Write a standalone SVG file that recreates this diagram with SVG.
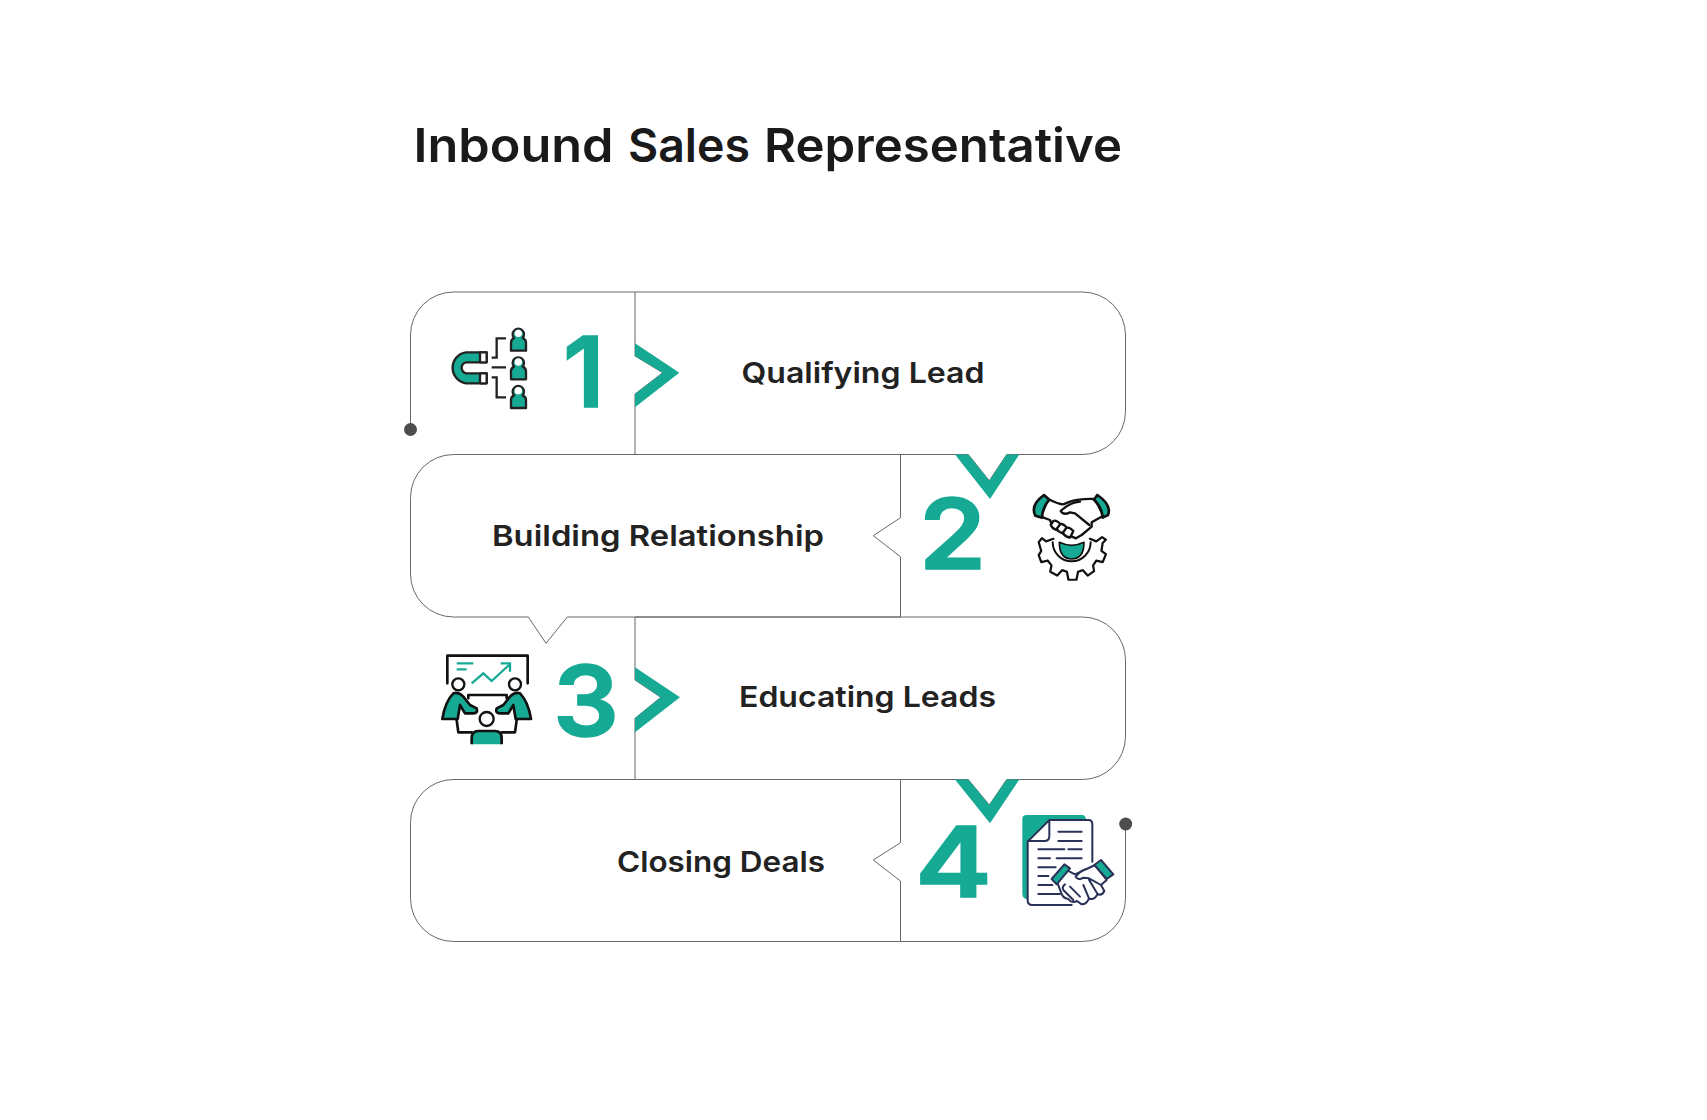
<svg xmlns="http://www.w3.org/2000/svg" width="1707" height="1120" viewBox="0 0 1707 1120">
<style>
.t{font-family:"Inter","Liberation Sans",sans-serif;font-weight:600;fill:#222}
.n{font-family:"Inter","Liberation Sans",sans-serif;font-weight:600;fill:#16aa95;stroke:#16aa95;stroke-width:1.500;font-size:98px}
.o{fill:none;stroke:#686868;stroke-width:1}
.c{fill:#16aa95}
.k{fill:none;stroke:#111;stroke-width:8;stroke-linecap:round;stroke-linejoin:round}
.kf{fill:#fff;stroke:#111;stroke-width:7;stroke-linejoin:round;stroke-linecap:round}
.kt{fill:#16aa95;stroke:#111;stroke-width:8;stroke-linejoin:round}
.m{fill:#16aa95;stroke:#222;stroke-width:7;stroke-linejoin:round}
.mw{fill:#fff;stroke:#222;stroke-width:7;stroke-linejoin:round}
.ml{fill:none;stroke:#222;stroke-width:7}
.d{fill:none;stroke:#2a3158;stroke-width:6;stroke-linecap:round;stroke-linejoin:round}
.df{fill:#fff;stroke:#2a3158;stroke-width:6;stroke-linejoin:round;stroke-linecap:round}
.dt{fill:#16aa95;stroke:#2a3158;stroke-width:6;stroke-linejoin:round}
</style>
<defs>
<g id="person"><path class="m" d="M213 92V68Q213 58 222 54A17 17 0 1 1 248 54Q258 58 258 68V92Z"/><circle fill="#fff" cx="235" cy="40" r="11"/></g>
</defs>
<rect width="1707" height="1120" fill="#fff"/>
<text class="t" y="162" font-size="47" style="fill:#1a1a1a"><tspan x="413.500" textLength="200" lengthAdjust="spacingAndGlyphs">Inbound</tspan><tspan x="628" textLength="122" lengthAdjust="spacingAndGlyphs">Sales</tspan><tspan x="764" textLength="358" lengthAdjust="spacingAndGlyphs">Representative</tspan></text>
<g id="node-1">
<path class="o" d="M410.500 429V335A43 43 0 0 1 453.500 292H1082.500A43 43 0 0 1 1125.500 335V411.500A43 43 0 0 1 1082.500 454.500H1006.700L989.300 480.700L968.300 454.500H635V394L662.700 372.700L635 356V292"/>
<g transform="translate(440 320) scale(.33333)">
<path class="m" d="M140 97H78A47 47 0 0 0 78 190H140V160H78A17 17 0 0 1 78 127H140Z"/>
<rect class="mw" x="120" y="97" width="20" height="30"/><rect class="mw" x="120" y="160" width="20" height="30"/>
<path class="ml" d="M155 113H170V55H198M155 142H198M155 172H170V232H198"/>
<use href="#person"/>
<use href="#person" y="86"/>
<use href="#person" y="172"/>
</g>
<text class="n" transform="translate(563 407)">1</text>
<text class="t" x="741.500" y="383" font-size="29" textLength="243" lengthAdjust="spacingAndGlyphs">Qualifying Lead</text>
</g>
<g id="node-2">
<path class="o" d="M900.500 454.500V517.700L873.300 535.700L900.500 556.700V617"/>
<path class="o" d="M900.500 454.500H453.500A43 43 0 0 0 410.500 497.500V574A43 43 0 0 0 453.500 617H528.300L546 643.300L567.300 617H900.500"/>
<g transform="translate(1020 485) scale(.33333)">
<path class="kf" transform="translate(155 170) scale(.96) translate(-155 -176)" d="M98 167L75 175L62 165L52 178L60 205L52 218L60 240L80 235L92 250L88 270L110 282L125 265L140 270L145 295H170L175 270L190 265L205 282L225 268L222 250L232 235L252 240L262 215L248 205L252 180L262 170L250 162L232 175L212 167"/>
<path class="k" d="M98 172A57 57 0 0 0 212 172" style="stroke-width:6"/>
<path class="kt" d="M118 172Q155 190 192 172Q192 222 155 222Q118 222 118 172Z" style="stroke-width:5"/>
<path class="kf" d="M85 42Q115 58 130 58L150 50Q180 40 225 42L250 92L215 112L215 125L185 150L168 160L100 130L90 105L62 95Z"/>
<path class="kf" d="M180 50Q150 52 122 78Q130 92 150 82L165 85L208 120"/>
<path class="kf" d="M100 108Q108 104 122 118L112 135Q98 132 92 120Z"/>
<path class="kf" d="M120 118Q128 114 140 128L130 145Q116 142 110 132Z"/>
<path class="kf" d="M140 128Q150 126 160 138L150 158Q135 155 128 144Z"/>
<path class="kt" d="M72 30L88 44Q68 65 66 98L46 92Q30 60 72 30Z"/>
<path class="kt" d="M232 30L222 44Q245 65 248 98L264 90Q276 60 232 30Z"/>
</g>
<text class="n" transform="translate(919 569) scale(1.1 1)">2</text>
<text class="t" x="492" y="546" font-size="29" textLength="332" lengthAdjust="spacingAndGlyphs">Building Relationship</text>
</g>
<g id="node-3">
<path class="o" d="M635 617V680L660.700 697.300L635 718.300V779.500"/>
<path class="o" d="M635 617H1082.500A43 43 0 0 1 1125.500 660V736.500A43 43 0 0 1 1082.500 779.500H1006.700L989.300 805L968.300 779.500H635"/>
<g transform="translate(435 645) scale(.33333)">
<path class="k" d="M37 115V32H278V115"/>
<path d="M65 55H115M65 73H95M110 115L145 85L170 108L222 60M197 55H225V80" fill="none" stroke="#16aa95" stroke-width="7"/>
<path class="k" d="M100 160V150H215V160M65 225L70 262H110M245 225L240 262H200"/>
<circle class="kf" cx="70" cy="118" r="18"/><circle class="kf" cx="240" cy="118" r="18"/><circle class="kf" cx="155" cy="222" r="21"/>
<path class="kt" d="M55 145Q70 140 85 155L105 180L125 190Q130 205 115 205H90L75 180L68 222H22Q30 170 55 145Z"/>
<path class="kt" d="M255 145Q240 140 225 155L205 180L185 190Q180 205 195 205H220L235 180L242 222H288Q280 170 255 145Z"/>
<path class="kt" d="M110 298V280Q110 258 130 258H180Q200 258 200 280V298" stroke-linecap="butt"/>
</g>
<text class="n" transform="translate(553 736) scale(1.06 1)">3</text>
<text class="t" x="739" y="707" font-size="29" textLength="257" lengthAdjust="spacingAndGlyphs">Educating Leads</text>
</g>
<g id="node-4">
<path class="o" d="M900.500 779.500V842.700L873.300 860L900.500 881V941.500"/>
<path class="o" d="M900.500 779.500H453.500A43 43 0 0 0 410.500 822.500V898.500A43 43 0 0 0 453.500 941.500H1082.500A43 43 0 0 0 1125.500 898.500V824"/>
<g transform="translate(1015 805) scale(.33333)">
<path class="c" d="M35 30H200Q213 30 213 45H100L38 108V285Q22 280 22 265V42Q22 30 35 30Z"/>
<path class="d" d="M103 45H220Q232 45 232 58V170M103 45L38 110V285Q38 300 52 300H170M103 45V92Q103 108 88 108H38"/>
<path class="d" d="M130 80H200M130 108H200M70 133H148M160 133H200M70 160H105M125 160H200M70 187H122M70 213H100M70 240H112M70 267H135"/>
<path class="df" d="M145 190L180 208L215 192L240 180L275 225L258 240L268 258Q262 272 248 268L240 278Q230 285 222 280Q215 298 200 298L186 288Q170 296 160 282Q142 280 138 262L128 235Z"/>
<path class="df" d="M215 192Q195 198 182 215Q190 228 205 218L222 220L258 240M222 224L248 268M205 240L222 280"/>
<path class="d" d="M150 238Q140 245 145 255L175 285M165 245L195 275"/>
<path class="dt" d="M110 222L148 178L165 190L125 238Z"/>
<path class="dt" d="M238 180L258 165L295 208L275 222Z"/>
</g>
<text class="n" transform="translate(915 897) scale(1.18 1)">4</text>
<text class="t" x="617" y="872" font-size="29" textLength="208" lengthAdjust="spacingAndGlyphs">Closing Deals</text>
</g>
<g id="connectors">
<path class="c" d="M635 343.300L679.300 372.700L635 407.300V394L662.700 372.700L635 356Z"/>
<path class="c" d="M955 454.500L990 499L1019.300 454.500H1006.700L989.300 480.700L968.300 454.500Z"/>
<path class="c" d="M635 667.300L680 697.300L635 732.300V718.300L660.700 697.300L635 680Z"/>
<path class="c" d="M955 779.500L990 823.300L1019.300 779.500H1006.700L989.300 805L968.300 779.500Z"/>
<circle cx="410.500" cy="429.500" r="6.500" fill="#4d4d4d"/>
<circle cx="1125.700" cy="824" r="6.500" fill="#4d4d4d"/>
</g>
</svg>
